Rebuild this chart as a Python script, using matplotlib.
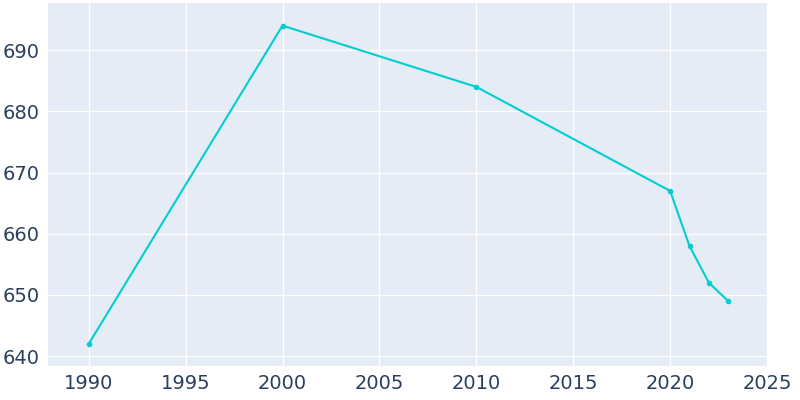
import matplotlib
matplotlib.use("Agg")
import matplotlib.pyplot as plt

years = [1990, 2000, 2010, 2020, 2021, 2022, 2023]
population = [642, 694, 684, 667, 658, 652, 649]
xticks = [1990, 1995, 2000, 2005, 2010, 2015, 2020, 2025]
yticks = [640, 650, 660, 670, 680, 690]

fig = plt.figure(figsize=(8, 4), dpi=100)
ax = fig.add_axes([48/800, 34/400, 720/800, 363/400])
ax.set_facecolor("#E5ECF6")
ax.plot(years, population, color="#00CED1", linewidth=1.5, marker="o", markersize=3)
ax.set_xlim(1987.9, 2025.05)
ax.set_ylim(638.4, 697.7)
ax.set_xticks(xticks)
ax.set_yticks(yticks)
ax.grid(color="white", linewidth=1)
ax.set_axisbelow(True)
for s in ax.spines.values():
    s.set_visible(False)
ax.tick_params(length=0, labelsize=14, labelcolor="#2A3F5F", pad=6)
fig.savefig("out.png")
